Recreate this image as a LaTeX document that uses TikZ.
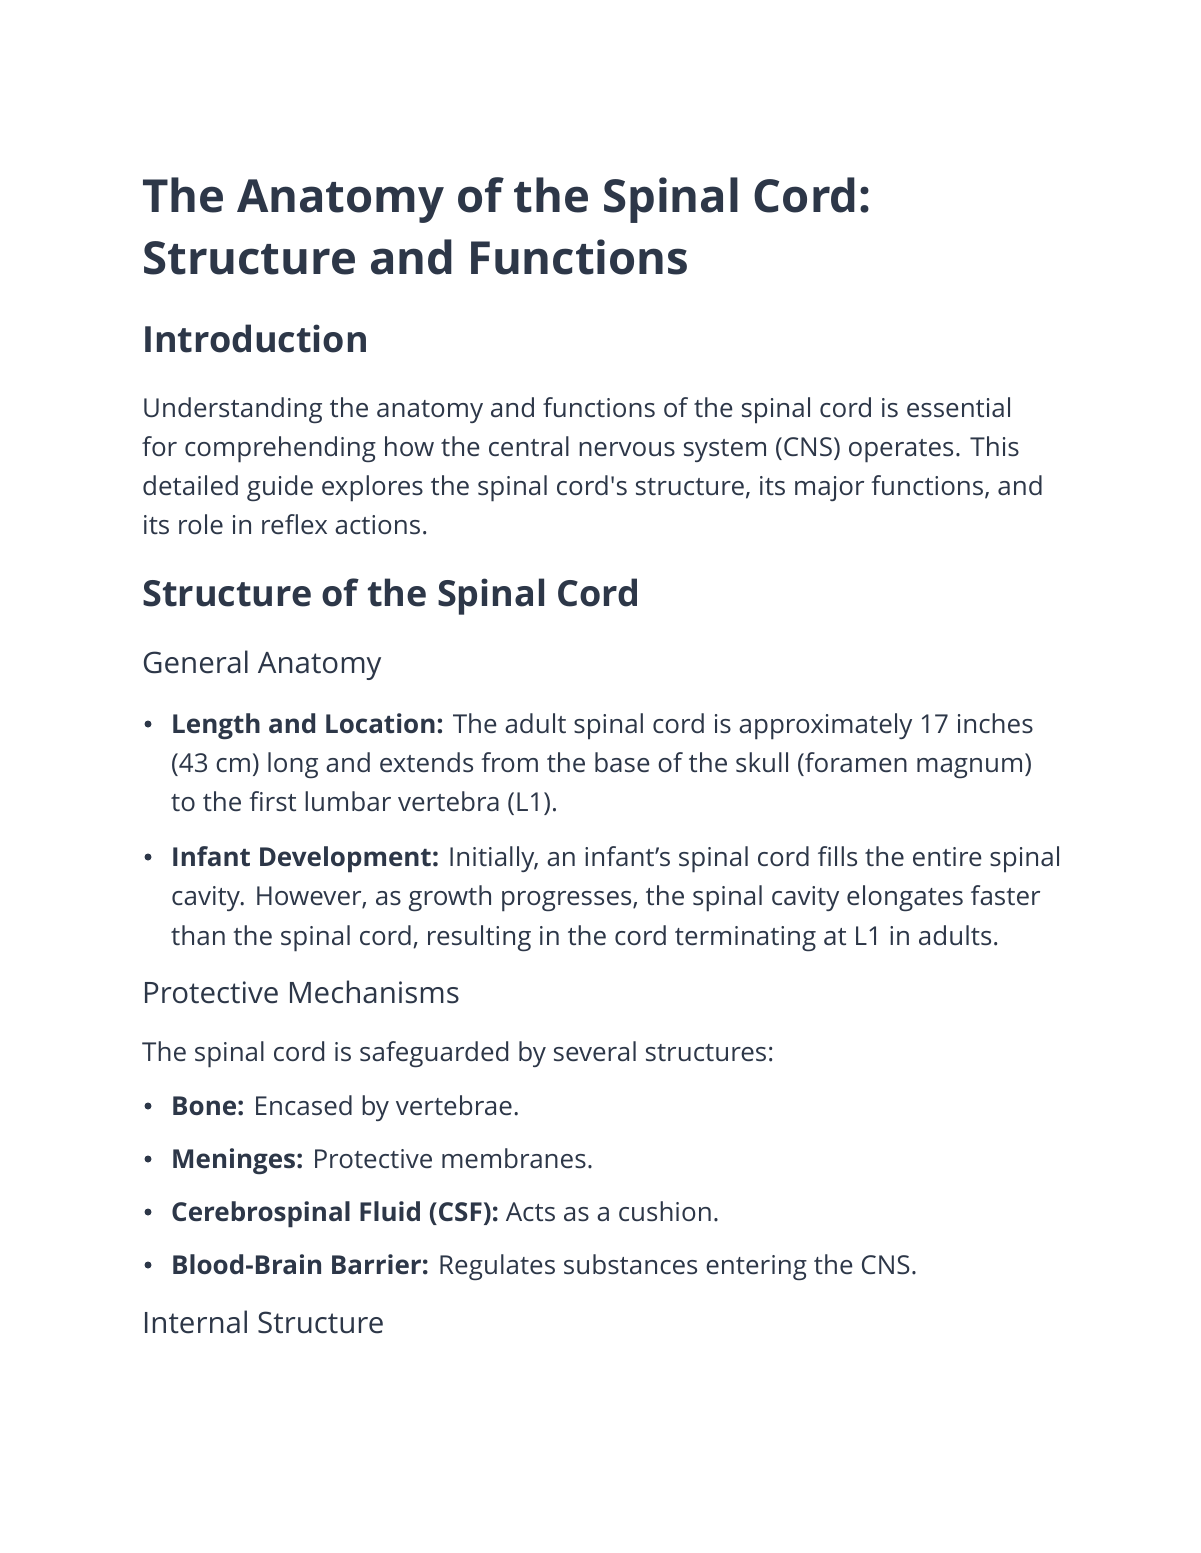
\documentclass[tikz,border=0pt]{standalone}
\usepackage{fontspec}
\setmainfont{Open Sans}
\usepackage{xcolor}
\definecolor{ink}{RGB}{45,55,72}
\tikzset{
    line/.style={anchor=base west, inner sep=0pt, text=ink, font=\fontsize{26}{30}\selectfont},
    titleline/.style={line, font=\fontsize{45.5}{54}\selectfont\bfseries},
    heading/.style={line, font=\fontsize{36}{42}\selectfont\bfseries},
    subheading/.style={line, font=\fontsize{29.5}{35}\selectfont},
    dot/.style={circle, fill=ink, inner sep=0pt, minimum size=7pt}
}
\begin{document}
\begin{tikzpicture}[x=1pt, y=-1pt]
    \useasboundingbox[fill=white] (0,0) rectangle (1200,1553);
    % Title
    \node[titleline] (title1) at (142,212) {The Anatomy of the Spinal Cord:};
    \node[titleline] (title2) at (142,274) {Structure and Functions};
    % Introduction
    \node[heading] (intro) at (142,352) {Introduction};
    \node[line] (p1) at (142,417) {Understanding the anatomy and functions of the spinal cord is essential};
    \node[line] (p2) at (142,456) {for comprehending how the central nervous system (CNS) operates. This};
    \node[line] (p3) at (142,495) {detailed guide explores the spinal cord\textquotesingle s structure, its major functions, and};
    \node[line] (p4) at (142,534) {its role in reflex actions.};
    % Structure
    \node[heading] (struct) at (142,606) {Structure of the Spinal Cord};
    \node[subheading] (general) at (142,673) {General Anatomy};
    \node[dot] (b1) at (148,724) {};
    \node[line] (l1) at (171,733) {\textbf{Length and Location:} The adult spinal cord is approximately 17 inches};
    \node[line] (l2) at (171,772) {(43 cm) long and extends from the base of the skull (foramen magnum)};
    \node[line] (l3) at (171,811) {to the first lumbar vertebra (L1).};
    \node[dot] (b2) at (148,857) {};
    \node[line] (d1) at (171,866) {\textbf{Infant Development:} Initially, an infant’s spinal cord fills the entire spinal};
    \node[line] (d2) at (171,905) {cavity. However, as growth progresses, the spinal cavity elongates faster};
    \node[line] (d3) at (171,945) {than the spinal cord, resulting in the cord terminating at L1 in adults.};
    % Protection
    \node[subheading] (protect) at (142,1003) {Protective Mechanisms};
    \node[line] (safe) at (142,1061) {The spinal cord is safeguarded by several structures:};
    \node[dot] (b3) at (148,1106) {};
    \node[line] (bone) at (171,1115) {\textbf{Bone:} Encased by vertebrae.};
    \node[dot] (b4) at (148,1159) {};
    \node[line] (men) at (171,1168) {\textbf{Meninges:} Protective membranes.};
    \node[dot] (b5) at (148,1212) {};
    \node[line] (csf) at (171,1221) {\textbf{Cerebrospinal Fluid (CSF):} Acts as a cushion.};
    \node[dot] (b6) at (148,1265) {};
    \node[line] (bbb) at (171,1274) {\textbf{Blood-Brain Barrier:} Regulates substances entering the CNS.};
    % Internal
    \node[subheading] (internal) at (142,1333) {Internal Structure};
\end{tikzpicture}
\end{document}
